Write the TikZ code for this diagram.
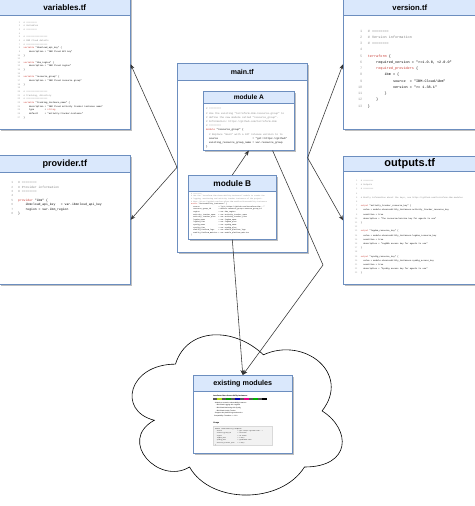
\documentclass[tikz,border=0pt]{standalone}
\usepackage{fontspec}
\setmainfont{Liberation Sans}
\setmonofont{Liberation Mono}
\usetikzlibrary{arrows.meta,shadows}

\definecolor{kopblauw}{HTML}{DAE8FC}
\definecolor{randblauw}{HTML}{6C8EBF}
\definecolor{sleutelrood}{HTML}{C7372F}
\definecolor{nummergrijs}{HTML}{A0A0A0}
\definecolor{commentgrijs}{HTML}{808080}
\definecolor{pijlgrijs}{HTML}{333333}

\newcommand{\lno}[1]{\makebox[2em][r]{\textcolor{nummergrijs}{#1}}\hspace{1.6em}}
\newcommand{\kw}[1]{\textcolor{sleutelrood}{#1}}
\newcommand{\cmt}[1]{\textcolor{commentgrijs}{#1}}
\newcommand{\insp}[1]{\hspace*{\dimexpr #1em*3/5\relax}}
\newcommand{\keyw}[2]{\makebox[\dimexpr #1em*3/5\relax][l]{#2}}

\tikzset{
  filebox/.style={draw=randblauw, fill=white, line width=0.6pt, inner sep=0pt, anchor=north west,
    drop shadow={shadow xshift=1.2pt, shadow yshift=-1.2pt, opacity=0.25, fill=black}},
  filehead/.style={draw=randblauw, fill=kopblauw, line width=0.6pt, inner sep=0pt, anchor=north west,
    font=\bfseries\fontsize{#1}{#1}\selectfont},
  codetext/.style={inner sep=0pt, anchor=north west, align=left},
  link/.style={draw=pijlgrijs, line width=0.55pt, -{Stealth[length=5pt,width=4pt]}}
}

\begin{document}
\begin{tikzpicture}[x=1pt, y=-1pt]
        \fill[white] (0,0) rectangle (474,506);
        \useasboundingbox (0,0) rectangle (474,506);
        % wolk
        \begin{scope}[shift={(116.8,317.4)}, x=234.6pt, y=-187pt]
          \draw[line width=0.6pt, fill=white] (0.25,0.25) .. controls (0.05,0.25) and (0,0.5) .. (0.16,0.55)
            .. controls (0,0.66) and (0.18,0.9) .. (0.31,0.8) .. controls (0.4,1) and (0.7,1) .. (0.8,0.8)
            .. controls (1,0.8) and (1,0.6) .. (0.875,0.5) .. controls (1,0.3) and (0.8,0.1) .. (0.625,0.2)
            .. controls (0.5,0.05) and (0.3,0.05) .. (0.25,0.25) -- cycle;
        \end{scope}
        % variables.tf
        \node[filebox, minimum width=131pt, minimum height=130pt] (vars) at (-1,-1) {};
        \node[filehead=8.1, minimum width=131pt, minimum height=16pt] (vars-kop) at (vars.north west) {variables.tf};
        \node[codetext, font=\ttfamily\fontsize{2.2}{3.65}\selectfont] (vars-code) at (15.6,21.5) {%
          \lno{1}\cmt{\# ========}\\
          \lno{2}\cmt{\# Variables}\\
          \lno{3}\cmt{\# ========}\\
          \lno{4}\\
          \lno{5}\cmt{\# ================}\\
          \lno{6}\cmt{\# IBM Cloud details}\\
          \lno{7}\cmt{\# ================}\\
          \lno{8}\kw{variable} "ibmcloud\_api\_key" \{\\
          \lno{9}\insp{4}description = "IBM Cloud API key"\\
          \lno{10}\}\\
          \lno{11}\\
          \lno{12}\kw{variable} "ibm\_region" \{\\
          \lno{13}\insp{4}description = "IBM Cloud region"\\
          \lno{14}\}\\
          \lno{15}\\
          \lno{16}\kw{variable} "resource\_group" \{\\
          \lno{17}\insp{4}description = "IBM Cloud resource group"\\
          \lno{18}\}\\
          \lno{19}\\
          \lno{20}\cmt{\# ================}\\
          \lno{21}\cmt{\# Tracking, directory}\\
          \lno{22}\cmt{\# ================}\\
          \lno{23}\kw{variable} "tracking\_instance\_name" \{\\
          \lno{24}\insp{4}description = "IBM Cloud activity tracker instance name"\\
          \lno{25}\insp{4}\keyw{12}{type}= \kw{string}\\
          \lno{26}\insp{4}\keyw{12}{default}= "activity-tracker-instance"\\
          \lno{27}\}};
        % version.tf
        \node[filebox, minimum width=133pt, minimum height=130pt] (vers) at (343,-1) {};
        \node[filehead=7.7, minimum width=133pt, minimum height=16pt] (vers-kop) at (vers.north west) {version.tf};
        \node[codetext, font=\ttfamily\fontsize{3.5}{6.25}\selectfont] (vers-code) at (355,29.5) {%
          \lno{1}\cmt{\# ========}\\
          \lno{2}\cmt{\# Version information}\\
          \lno{3}\cmt{\# ========}\\
          \lno{4}\\
          \lno{5}\kw{terraform} \{\\
          \lno{6}\insp{4}required\_version = ">=1.0.0, <2.0.0"\\
          \lno{7}\insp{4}\kw{required\_providers} \{\\
          \lno{8}\insp{8}ibm = \{\\
          \lno{9}\insp{12}\keyw{8}{source}= "IBM-Cloud/ibm"\\
          \lno{10}\insp{12}\keyw{8}{version}= ">= 1.38.1"\\
          \lno{11}\insp{8}\}\\
          \lno{12}\insp{4}\}\\
          \lno{13}\}};
        % provider.tf
        \node[filebox, minimum width=131pt, minimum height=129pt] (prov) at (-1,155) {};
        \node[filehead=9.1, minimum width=131pt, minimum height=17pt] (prov-kop) at (prov.north west) {provider.tf};
        \node[codetext, font=\ttfamily\fontsize{3.1}{4.4}\selectfont] (prov-code) at (6.8,181.5) {%
          \lno{1}\cmt{\# ========}\\
          \lno{2}\cmt{\# Provider information}\\
          \lno{3}\cmt{\# ========}\\
          \lno{4}\\
          \lno{5}\kw{provider} "ibm" \{\\
          \lno{6}\insp{4}ibmcloud\_api\_key\insp{3}= var.ibmcloud\_api\_key\\
          \lno{7}\insp{4}region = var.ibm\_region\\
          \lno{8}\}};
        % outputs.tf
        \node[filebox, minimum width=133pt, minimum height=128pt] (outp) at (343,156) {};
        \node[filehead=11, minimum width=133pt, minimum height=15pt] (outp-kop) at (outp.north west) {outputs.tf};
        \node[codetext, font=\ttfamily\fontsize{2.1}{4.2}\selectfont] (outp-code) at (353,180) {%
          \lno{1}\cmt{\# ========}\\
          \lno{2}\cmt{\# Outputs}\\
          \lno{3}\cmt{\# ========}\\
          \lno{4}\\
          \lno{5}\cmt{\# Mostly information about the keys, see https://github.com/terraform-ibm-modules}\\
          \lno{6}\\
          \lno{7}\kw{output} "activity\_tracker\_resource\_key" \{\\
          \lno{8}\insp{2}value = module.observability\_instances.activity\_tracker\_resource\_key\\
          \lno{9}\insp{2}sensitive = true\\
          \lno{10}\insp{2}description = "The resource/service key for agents to use"\\
          \lno{11}\}\\
          \lno{12}\\
          \lno{13}\kw{output} "logdna\_resource\_key" \{\\
          \lno{14}\insp{2}value = module.observability\_instances.logdna\_resource\_key\\
          \lno{15}\insp{2}sensitive = true\\
          \lno{16}\insp{2}description = "LogDNA access key for agents to use"\\
          \lno{17}\}\\
          \lno{18}\\
          \lno{19}\kw{output} "sysdig\_resource\_key" \{\\
          \lno{20}\insp{2}value = module.observability\_instances.sysdig\_access\_key\\
          \lno{21}\insp{2}sensitive = true\\
          \lno{22}\insp{2}description = "Sysdig access key for agents to use"\\
          \lno{23}\}};
        % main.tf met modules
        \node[filebox, minimum width=130pt, minimum height=189pt] (main) at (177,63) {};
        \node[filehead=7, minimum width=130pt, minimum height=17pt] (main-kop) at (main.north west) {main.tf};
        \node[filebox, minimum width=91pt, minimum height=59pt] (modA) at (203,91) {};
        \node[filehead=6.6, minimum width=91pt, minimum height=12pt] (modA-kop) at (modA.north west) {module A};
        \node[codetext, font=\ttfamily\fontsize{2.5}{4.2}\selectfont] (modA-code) at (206,108) {%
          \cmt{\# ========}\\
          \cmt{\# Use the existing "terraform-ibm-resource-group" to}\\
          \cmt{\# define the new module called "resource\_group".}\\
          \cmt{\# Information: https://github.com/terraform-ibm}\\
          \cmt{\# ========}\\
          \kw{module} "resource\_group" \{\\
          \insp{2}\cmt{\# Replace "main" with a GIT release version to lo}\\
          \insp{2}\keyw{29}{source}= "git::https://github"\\
          \insp{2}existing\_resource\_group\_name = var.resource\_group\\
          \}};
        \node[filebox, minimum width=88pt, minimum height=64pt] (modB) at (188,175) {};
        \node[filehead=8.3, minimum width=88pt, minimum height=16pt] (modB-kop) at (modB.north west) {module B};
        \node[codetext, font=\ttfamily\fontsize{1.75}{2.6}\selectfont] (modB-code) at (191,193) {%
          \cmt{\# ========}\\
          \cmt{\# Use the "terraform-ibm-observability-instances" module to create the}\\
          \cmt{\# logging, monitoring and activity tracker instances of the project.}\\
          \cmt{\# More: https://github.com/terraform-ibm-modules/observability-instances}\\
          \kw{module} "observability\_instances" \{\\
          \insp{2}\keyw{24}{source}= "git::https://github.com/terraform-ibm..."\\
          \insp{2}\keyw{24}{resource\_group\_id}= module.resource\_group.resource\_group\_id\\
          \insp{2}\keyw{24}{region}= var.ibm\_region\\
          \insp{2}\keyw{24}{activity\_tracker\_name}= var.activity\_tracker\_name\\
          \insp{2}\keyw{24}{activity\_tracker\_plan}= var.activity\_tracker\_plan\\
          \insp{2}\keyw{24}{logdna\_name}= var.logdna\_name\\
          \insp{2}\keyw{24}{logdna\_plan}= var.logdna\_plan\\
          \insp{2}\keyw{24}{sysdig\_name}= var.sysdig\_name\\
          \insp{2}\keyw{24}{sysdig\_plan}= var.sysdig\_plan\\
          \insp{2}\keyw{24}{enable\_platform\_logs}= var.enable\_platform\_logs\\
          \insp{2}\keyw{24}{enable\_platform\_metrics}= var.enable\_platform\_metrics\\
          \}};
        % bestaande modules
        \node[filebox, minimum width=99pt, minimum height=78pt] (exist) at (193,375) {};
        \node[filehead=7.2, minimum width=99pt, minimum height=16pt] (exist-kop) at (exist.north west) {existing modules};
        \node[codetext, font=\bfseries\fontsize{1.9}{2.2}\selectfont] (exist-titel) at (213,394.5) {terraform-ibm-observability-instances};
        \foreach \x/\kleur in {0/{yellow!70!green},9/{green!60!black},18/{blue!70!black},27/magenta,36/{green!70!black},45/black} {
          \fill[gray!70!black] (213+\x,398.3) rectangle ++(4,2);
          \fill[\kleur] (217+\x,398.3) rectangle ++(4.5,2);
        }
        \node[codetext, font=\fontsize{1.6}{2.6}\selectfont] (exist-tekst) at (214,402) {%
          - Module to create the observability instances\\
          \quad - IBM Cloud Logging with LogDNA\\
          \quad - IBM Cloud Monitoring with Sysdig\\
          \quad - IBM Cloud Activity Tracker\\
          - Supports the platform logs and metrics\\
          Compatibility: Terraform >= 1.0.0};
        \node[codetext, font=\bfseries\fontsize{2}{2.4}\selectfont] (exist-usage) at (213,421.5) {Usage};
        \node[fill=gray!10, draw=gray!30, line width=0.2pt, anchor=north west, minimum width=59pt, minimum height=19pt, inner sep=0pt] (exist-blok) at (213,426) {};
        \node[codetext, font=\ttfamily\fontsize{1.4}{2.3}\selectfont] (exist-code) at (215,428) {%
          \keyw{26}{module "observability\_instances"}\{\\
          \insp{2}\keyw{24}{source}= "git::https://github.com/..."\\
          \insp{2}\keyw{24}{resource\_group\_id}= "xxxxxxxx"\\
          \insp{2}\keyw{24}{region}= "us-south"\\
          \insp{2}\keyw{24}{logdna\_plan}= "7-day"\\
          \insp{2}\keyw{24}{sysdig\_plan}= "graduated-tier"\\
          \insp{2}\keyw{24}{activity\_tracker\_plan}= "7-day"\\
          \}};
        % pijlen
        \coordinate (knik) at (323,265);
        \draw[link] ([yshift=-9.5pt]main.west) -- (vars.east);
        \draw[link] ([yshift=-9.5pt]main.west) -- (prov.east);
        \draw[link] (main.east) -- (vers.west);
        \draw[link] (main.east) -- (outp.west);
        \draw[link] (modB.north) -- (modA.south);
        \draw[link] (modB.south) -- (exist.north);
        \draw[link] ([xshift=-22pt]modA.south east) -- (knik) -- (exist.north);
    \end{tikzpicture}
\end{document}
